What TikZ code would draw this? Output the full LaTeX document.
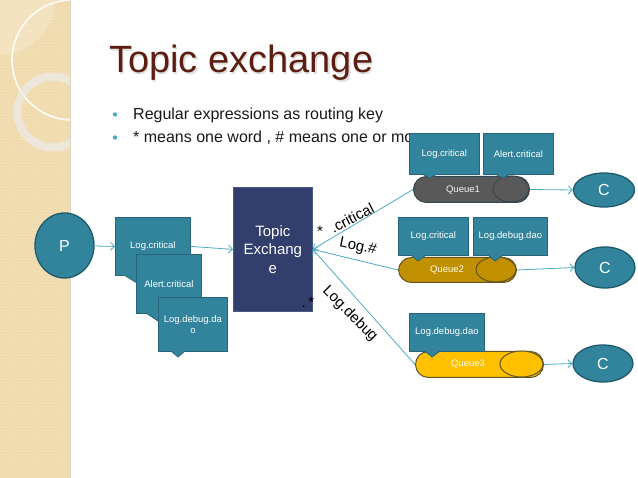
\documentclass[tikz,border=0pt]{standalone}
\usepackage{fontspec}
\setmainfont{Liberation Sans}
\usetikzlibrary{arrows.meta,shapes.geometric,patterns}
\definecolor{stripc}{RGB}{243,223,180}
\definecolor{stripdot}{RGB}{232,208,160}
\definecolor{titlec}{RGB}{93,30,18}
\definecolor{msgfill}{RGB}{49,132,155}
\definecolor{msgborder}{RGB}{38,100,120}
\definecolor{circborder}{RGB}{30,90,108}
\definecolor{linec}{RGB}{75,172,198}
\definecolor{exfill}{RGB}{50,62,108}
\definecolor{exborder}{RGB}{70,88,135}
\definecolor{qonefill}{RGB}{89,89,89}
\definecolor{qoneborder}{RGB}{55,70,78}
\definecolor{qtwofill}{RGB}{192,144,0}
\definecolor{qtwoborder}{RGB}{100,85,30}
\definecolor{qthreefill}{RGB}{255,192,0}
\definecolor{qthreeborder}{RGB}{95,85,40}
\definecolor{bodytext}{RGB}{25,25,25}
\newcommand\callptr[5]{%
  \fill[msgfill] (#1,#5-0.7) -- (#1,#5) -- (#3,#4) -- (#2,#5) -- (#2,#5-0.7) -- cycle;
  \draw[msgborder, line width=0.8pt] (#1,#5) -- (#3,#4) -- (#2,#5);}
\tikzset{
  msg/.style={rectangle, draw=msgborder, fill=msgfill, line width=0.8pt, text=white,
    font=\fontsize{9.5}{11.5}\selectfont, inner sep=0pt, align=center, anchor=north west},
  circ/.style={ellipse, draw=circborder, fill=msgfill, line width=1.3pt, text=white,
    font=\fontsize{16}{18}\selectfont, inner sep=0pt},
  conn/.style={draw=linec, line width=0.8pt, -{Straight Barb[length=4pt,width=8pt]}},
  lbl/.style={font=\fontsize{15}{17}\selectfont, text=black, inner sep=0pt},
  queuebox/.style={rectangle, rounded corners=13pt, line width=1pt, inner sep=0pt, anchor=north west},
  queueend/.style={ellipse, line width=1pt, inner sep=0pt},
  qtext/.style={font=\fontsize{9.5}{11}\selectfont, inner sep=0pt},
  bullettext/.style={font=\fontsize{16}{19}\selectfont, text=bodytext, inner sep=0pt, anchor=base west},
}
\begin{document}
\begin{tikzpicture}[x=1pt,y=-1pt]
\useasboundingbox (0,0) rectangle (638,478);
\fill[white] (0,0) rectangle (638,478);
% left decorative strip
\fill[stripc] (0,0) rectangle (70,478);
\fill[pattern=crosshatch dots, pattern color=stripdot] (0,0) rectangle (70,478);
\begin{scope}
  \clip (0,0) rectangle (70,478);
  \fill[white, opacity=0.2] (0,0) circle[radius=55];
  \draw[white!92!stripc, line width=1.6pt] (72,60) circle[radius=60];
  \draw[white!85!gray, line width=8pt, opacity=0.7] (53,112) circle[radius=35.5];
\end{scope}
\draw[stripdot!80!black, line width=0.6pt, opacity=0.5] (70,0) -- (70,478);
% title
\node[font=\fontsize{38}{42}\selectfont, text=gray!25, anchor=base west, inner sep=0pt] (titleshadow) at (110.3,74.3) {Topic exchange};
\node[font=\fontsize{38}{42}\selectfont, text=titlec, anchor=base west, inner sep=0pt] (title) at (109,73) {Topic exchange};
% bullets
\fill[linec] (115,114.5) circle[radius=2.2];
\fill[linec] (115,137.5) circle[radius=2.2];
\node[bullettext] (b1) at (133,120) {Regular expressions as routing key};
\node[bullettext] (b2) at (133,143) {* means one word , \# means one or more};
% producer and left messages
\node[circ, minimum width=59pt, minimum height=65pt] (P) at (64.5,245.5) {P};
\node[msg, minimum width=75pt, minimum height=58pt] (lc1) at (115,217) {Log.critical};
\callptr{124}{140}{137}{283}{275}
\node[msg, minimum width=65pt, minimum height=59pt] (lc2) at (136,254) {Alert.critical};
\callptr{146}{161}{158}{321}{313}
\node[msg, minimum width=69pt, minimum height=54pt] (lc3) at (158,297) {Log.debug.da\\o};
\callptr{171}{185}{178}{357}{351}
% exchange
\node[rectangle, draw=exborder, fill=exfill, line width=0.8pt, text=white, inner sep=0pt,
  anchor=north west, minimum width=79pt, minimum height=124pt, align=center,
  font=\fontsize{15}{18.5}\selectfont] (ex) at (233,187) {Topic\\Exchang\\e};
% queues
\node[queuebox, draw=qoneborder, fill=qonefill, minimum width=116pt, minimum height=26pt] (q1) at (413,176) {};
\node[queueend, draw=qoneborder, fill=qonefill, minimum width=36pt, minimum height=26pt] (q1e) at (511,189) {};
\node[qtext, text=white!90!gray] (q1t) at (463,190) {Queue1};
\node[queuebox, draw=qtwoborder, fill=qtwofill, minimum width=118pt, minimum height=25pt] (q2) at (398,257) {};
\node[queueend, draw=qtwoborder, fill=qtwofill, minimum width=40pt, minimum height=25pt] (q2e) at (496,269.5) {};
\node[qtext, text=white!92!yellow] (q2t) at (447,270) {Queue2};
\node[queuebox, draw=qthreeborder, fill=qthreefill, minimum width=128pt, minimum height=26pt] (q3) at (415,351) {};
\node[queueend, draw=qthreeborder, fill=qthreefill, minimum width=43pt, minimum height=26pt] (q3e) at (521.5,364) {};
\node[qtext, text=white!90!yellow] (q3t) at (468,364) {Queue3};
% queue bindings messages
\node[msg, minimum width=70pt, minimum height=41pt] (qa1) at (409,133) {Log.critical};
\callptr{422}{437}{430}{178}{174}
\node[msg, minimum width=70pt, minimum height=41pt] (qb1) at (483,133) {Alert.critical};
\callptr{495}{510}{503}{178}{174}
\node[msg, minimum width=70pt, minimum height=38pt] (qa2) at (398,217) {Log.critical};
\callptr{411}{426}{418}{261}{255}
\node[msg, minimum width=74pt, minimum height=38pt] (qb2) at (473,217) {Log.debug.dao};
\callptr{488}{503}{495}{261}{255}
\node[msg, minimum width=75pt, minimum height=38pt] (qa3) at (409,313) {Log.debug.dao};
\callptr{425}{440}{432}{357}{351}
% consumers
\node[circ, minimum width=61pt, minimum height=34pt] (c1) at (604,190) {C};
\node[circ, minimum width=60pt, minimum height=41pt] (c2) at (605,267.5) {C};
\node[circ, minimum width=60pt, minimum height=37pt] (c3) at (603,363.5) {C};
% connectors
\draw[conn] (P) -- (lc1.west);
\draw[conn] (lc1.east) -- (ex.west);
\draw[conn] (q1.west) -- (ex.east);
\draw[conn] (q2.west) -- (ex.east);
\draw[conn] (q3.west) -- (ex.east);
\draw[conn] (q1.east) -- (c1.west);
\draw[conn] (q2.east) -- (c2.west);
\draw[conn] (q3.east) -- (c3.west);
% routing key labels
\node[lbl] (star1) at (320,231) {*};
\node[lbl, rotate=27] (crit) at (352,218) {.critical};
\node[lbl, rotate=-12] (hash) at (358,247) {Log.\#};
\node[lbl, rotate=-45] (dbg) at (350,314) {Log.debug};
\node[lbl] (star2) at (308,302) {.\,*};
\end{tikzpicture}
\end{document}
